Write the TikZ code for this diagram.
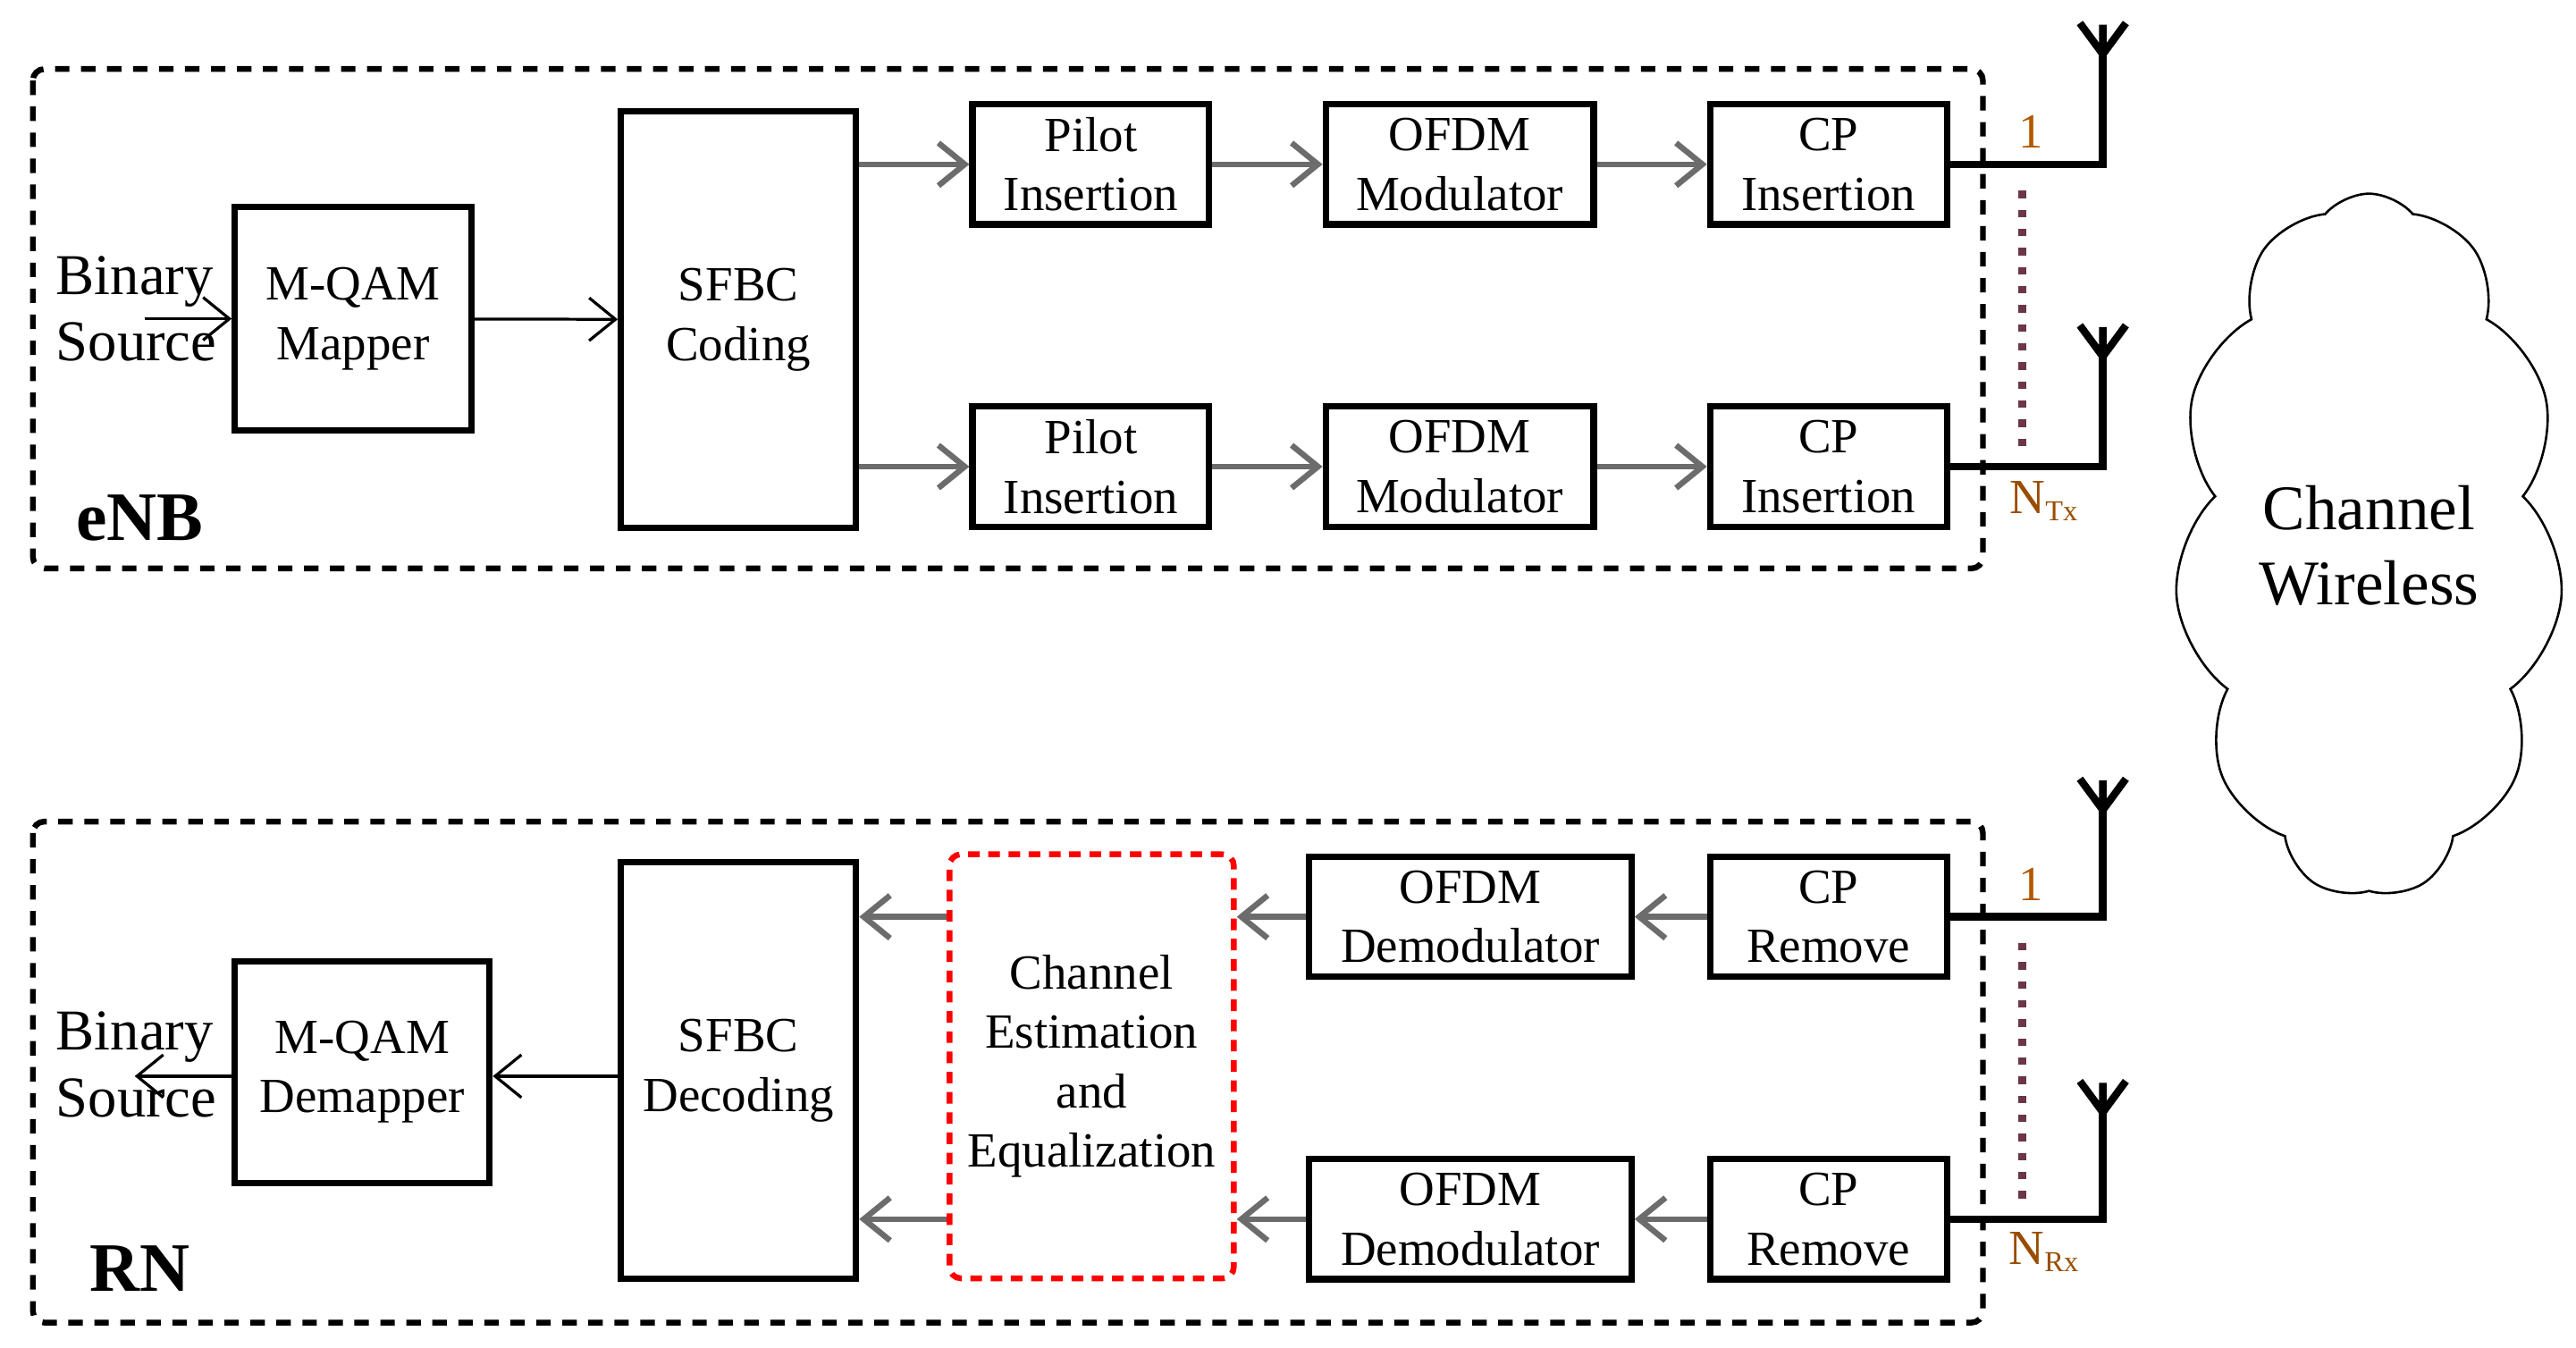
\documentclass[tikz,border=0pt]{standalone}
\usepackage{fontspec}
\setmainfont{Liberation Serif}
\usetikzlibrary{arrows.meta, calc, shapes.symbols}

\begin{document}
\begin{tikzpicture}
    [x=0.01cm, y=-0.01cm, font=\fontsize{8.5}{10.3}\selectfont,
    block/.style={rectangle, draw, line width=1.1pt, align=center, inner sep=0pt},
    group/.style={draw, line width=1pt, dash pattern=on 2.5pt off 2pt, rounded corners=2pt},
    estim/.style={rectangle, draw=red, line width=1pt, dash pattern=on 2pt off 1.5pt,
    rounded corners=2pt, align=center, inner sep=0pt},
    arrow/.style={-{Straight Barb[length=1.6mm, width=2.6mm]}, line width=0.5pt},
    garrow/.style={arrow, draw=gray!85!black, line width=1pt},
    feed/.style={line width=1.3pt},
    antenna/.style={line width=1.3pt}]
    \useasboundingbox (0,0) rectangle (1568,820);
    % enb and rn groups
    \draw [group] (20,42) rectangle (1207,346);
    \draw [group] (20,500) rectangle (1207,805);
    \node [font=\fontsize{12}{14}\selectfont\bfseries] (enb) at (85,315) {eNB};
    \node [font=\fontsize{12}{14}\selectfont\bfseries] (rn) at (85,772) {RN};

    % transmitter
    \node [align=left, font=\fontsize{10}{11.5}\selectfont] (src) at (83,188) {Binary\\Source};
    \node [block, minimum width=1.44cm, minimum height=1.36cm] (mapper) at (215,194) {M-QAM\\Mapper};
    \node [block, minimum width=1.43cm, minimum height=2.53cm] (coding) at (449.5,194.5) {SFBC\\Coding};
    \foreach \i/\y in {1/100, 2/284} {
      \node [block, minimum width=1.44cm, minimum height=0.73cm] (pilot\i) at (664,\y) {Pilot\\Insertion};
      \node [block, minimum width=1.63cm, minimum height=0.73cm] (mod\i) at (888.5,\y) {OFDM\\Modulator};
      \node [block, minimum width=1.44cm, minimum height=0.73cm] (cpins\i) at (1113,\y) {CP\\Insertion};
      \coordinate (txa\i) at (1280,\y);
      \draw [garrow] (coding.east |- pilot\i) -- (pilot\i);
      \draw [garrow] (pilot\i) -- (mod\i);
      \draw [garrow] (mod\i) -- (cpins\i);
      \draw [feed] (cpins\i) -- (txa\i) -- ++(0,-67);
      \draw [antenna] ($(txa\i)+(0,-67)$) -- ++(0,-18)
        (txa\i) ++(-14,-86) -- ++(14,19) -- ++(14,-19);
    }
    \coordinate (srcin) at (88,194);
    \draw [arrow] (srcin) -- (mapper);
    \draw [arrow] (mapper) -- (coding);
    \node [text=orange!70!black] (tx1) at (1236,80) {1};
    \node [text=orange!60!black] (txn) at (1244,305) {N\raisebox{-0.3ex}{\fontsize{5}{6}\selectfont Tx}};
    \draw [line width=1.3pt, dotted, draw=blue!40!orange!70!black] (1231,116) -- (1231,272);

    % channel
    \node [cloud, draw, cloud puffs=11, cloud puff arc=100, aspect=0.45, minimum width=1.8cm,
    minimum height=4.05cm, inner sep=0pt, align=center, font=\fontsize{11}{13}\selectfont] (chan) at (1442,332)
    {Channel\\Wireless};

    % receiver
    \foreach \i/\y in {1/558, 2/742} {
      \node [block, minimum width=1.44cm, minimum height=0.73cm] (cprem\i) at (1113,\y) {CP\\Remove};
      \node [block, minimum width=1.96cm, minimum height=0.73cm] (demod\i) at (895,\y) {OFDM\\Demodulator};
      \coordinate (rxa\i) at (1280,\y);
      \draw [feed] (cprem\i) -- (rxa\i) -- ++(0,-65);
      \draw [antenna] ($(rxa\i)+(0,-65)$) -- ++(0,-18)
        (rxa\i) ++(-14,-84) -- ++(14,19) -- ++(14,-19);
      \draw [garrow] (cprem\i) -- (demod\i);
    }
    \node [estim, minimum width=1.73cm, minimum height=2.58cm] (est) at (664.5,649)
    {Channel\\Estimation\\and\\Equalization};
    \node [block, minimum width=1.43cm, minimum height=2.53cm] (decoding) at (449.5,651.5) {SFBC\\Decoding};
    \node [block, minimum width=1.55cm, minimum height=1.35cm] (demapper) at (220.5,652.5) {M-QAM\\Demapper};
    \node [align=left, font=\fontsize{10}{11.5}\selectfont] (sink) at (83,648) {Binary\\Source};
    \coordinate (sinkout) at (82,655);
    \foreach \i in {1, 2} {
      \draw [garrow] (demod\i) -- (est.east |- demod\i);
      \draw [garrow] (est.west |- demod\i) -- (decoding.east |- demod\i);
    }
    \draw [arrow] (decoding.west |- 0,655) -- (demapper.east |- 0,655);
    \draw [arrow] (demapper.west |- 0,655) -- (sinkout);
    \node [text=orange!70!black] (rx1) at (1236,538) {1};
    \node [text=orange!60!black] (rxn) at (1244,762) {N\raisebox{-0.3ex}{\fontsize{5}{6}\selectfont Rx}};
    \draw [line width=1.3pt, dotted, draw=blue!40!orange!70!black] (1231,574) -- (1231,730);
\end{tikzpicture}
\end{document}
